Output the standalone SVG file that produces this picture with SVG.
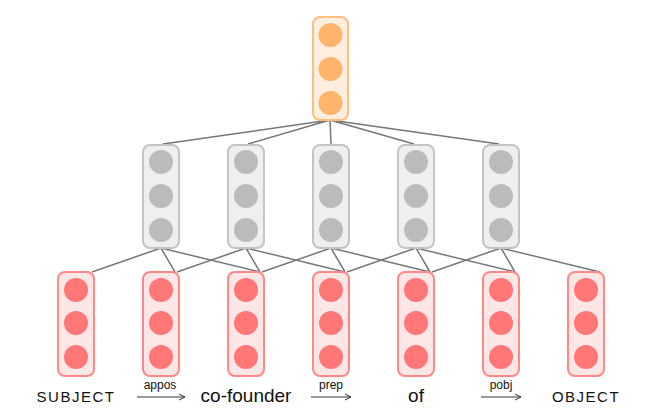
<svg xmlns="http://www.w3.org/2000/svg" width="668" height="412" viewBox="0 0 668 412">
<style>
.r{fill:#fde6e6;stroke:#f88;stroke-width:2}.rc{fill:#f77}
.g{fill:#efefef;stroke:#c4c4c4;stroke-width:2}.gc{fill:#bbb}
.o{fill:#fdeedd;stroke:#fcbf7f;stroke-width:2}.oc{fill:#fdb56c}
.l{stroke:#777;stroke-width:1.5;fill:none}
.w{font-family:"Liberation Sans",Arial,sans-serif;fill:#111;text-anchor:middle}
.a{stroke:#333;stroke-width:1;fill:none}
</style>
<defs>
<marker id="ah" markerWidth="8" markerHeight="8" refX="7" refY="4" orient="auto" markerUnits="userSpaceOnUse"><path d="M1,1 L7,4 L1,7" fill="none" stroke="#333" stroke-width="1"/></marker>
</defs>
<g id="connectors">
<path class="l" d="M330,120 L163,144 M330,120 L248,144 M330,120 L331,144 M330,120 L414,144 M330,120 L499,144"/>
<path class="l" d="M161,248 L92,272 M161,248 L175,272 M161,248 L260,272"/>
<path class="l" d="M246,248 L177,272 M246,248 L260,272 M246,248 L345,272"/>
<path class="l" d="M331,248 L262,272 M331,248 L345,272 M331,248 L430,272"/>
<path class="l" d="M416,248 L347,272 M416,248 L430,272 M416,248 L515,272"/>
<path class="l" d="M501,248 L432,272 M501,248 L515,272 M501,248 L600,272"/>
</g>
<g id="top"><rect class="o" x="313" y="17" width="35" height="103" rx="7"/><circle class="oc" cx="330.5" cy="35" r="12"/><circle class="oc" cx="330.5" cy="69" r="12"/><circle class="oc" cx="330.5" cy="103" r="12"/></g>
<g id="g1"><rect class="g" x="143" y="145" width="36" height="103" rx="7"/><circle class="gc" cx="161" cy="162" r="12"/><circle class="gc" cx="161" cy="196" r="12"/><circle class="gc" cx="161" cy="230" r="12"/></g>
<g id="g2"><rect class="g" x="228" y="145" width="36" height="103" rx="7"/><circle class="gc" cx="246" cy="162" r="12"/><circle class="gc" cx="246" cy="196" r="12"/><circle class="gc" cx="246" cy="230" r="12"/></g>
<g id="g3"><rect class="g" x="313" y="145" width="36" height="103" rx="7"/><circle class="gc" cx="331" cy="162" r="12"/><circle class="gc" cx="331" cy="196" r="12"/><circle class="gc" cx="331" cy="230" r="12"/></g>
<g id="g4"><rect class="g" x="398" y="145" width="36" height="103" rx="7"/><circle class="gc" cx="416" cy="162" r="12"/><circle class="gc" cx="416" cy="196" r="12"/><circle class="gc" cx="416" cy="230" r="12"/></g>
<g id="g5"><rect class="g" x="483" y="145" width="36" height="103" rx="7"/><circle class="gc" cx="501" cy="162" r="12"/><circle class="gc" cx="501" cy="196" r="12"/><circle class="gc" cx="501" cy="230" r="12"/></g>
<g id="r1"><rect class="r" x="58" y="272" width="36" height="104" rx="7"/><circle class="rc" cx="76" cy="290" r="12"/><circle class="rc" cx="76" cy="323" r="12"/><circle class="rc" cx="76" cy="357" r="12"/></g>
<g id="r2"><rect class="r" x="143" y="272" width="36" height="104" rx="7"/><circle class="rc" cx="161" cy="290" r="12"/><circle class="rc" cx="161" cy="323" r="12"/><circle class="rc" cx="161" cy="357" r="12"/></g>
<g id="r3"><rect class="r" x="228" y="272" width="36" height="104" rx="7"/><circle class="rc" cx="246" cy="290" r="12"/><circle class="rc" cx="246" cy="323" r="12"/><circle class="rc" cx="246" cy="357" r="12"/></g>
<g id="r4"><rect class="r" x="313" y="272" width="36" height="104" rx="7"/><circle class="rc" cx="331" cy="290" r="12"/><circle class="rc" cx="331" cy="323" r="12"/><circle class="rc" cx="331" cy="357" r="12"/></g>
<g id="r5"><rect class="r" x="398" y="272" width="36" height="104" rx="7"/><circle class="rc" cx="416" cy="290" r="12"/><circle class="rc" cx="416" cy="323" r="12"/><circle class="rc" cx="416" cy="357" r="12"/></g>
<g id="r6"><rect class="r" x="483" y="272" width="36" height="104" rx="7"/><circle class="rc" cx="501" cy="290" r="12"/><circle class="rc" cx="501" cy="323" r="12"/><circle class="rc" cx="501" cy="357" r="12"/></g>
<g id="r7"><rect class="r" x="568" y="272" width="36" height="104" rx="7"/><circle class="rc" cx="586" cy="290" r="12"/><circle class="rc" cx="586" cy="323" r="12"/><circle class="rc" cx="586" cy="357" r="12"/></g>
<g id="labels">
<text class="w" x="76" y="402" font-size="15" letter-spacing="1.5">SUBJECT</text>
<text class="w" x="246" y="402" font-size="19">co-founder</text>
<text class="w" x="416" y="402" font-size="19">of</text>
<text class="w" x="586" y="402" font-size="15" letter-spacing="1.5">OBJECT</text>
<text class="w" x="160" y="389" font-size="12">appos</text>
<text class="w" x="331" y="389" font-size="12">prep</text>
<text class="w" x="501" y="389" font-size="12">pobj</text>
<path class="a" d="M137,397 L185,397" marker-end="url(#ah)"/>
<path class="a" d="M311,397 L351,397" marker-end="url(#ah)"/>
<path class="a" d="M481,397 L521,397" marker-end="url(#ah)"/>
</g>
</svg>
